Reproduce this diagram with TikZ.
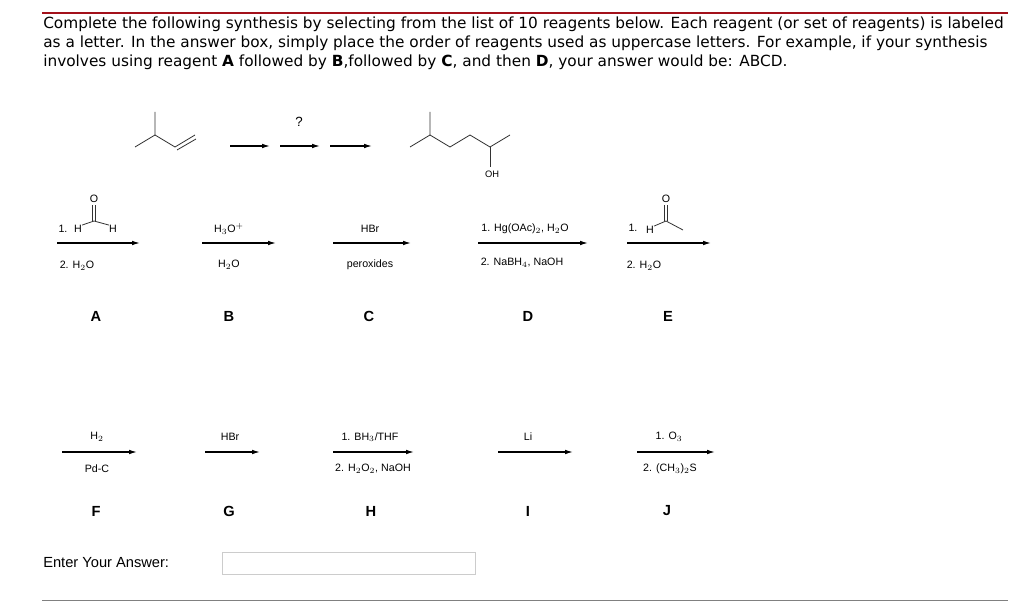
\documentclass[tikz,border=0pt]{standalone}
\usepackage{fontspec}
\usetikzlibrary{arrows.meta}
\setmainfont{Liberation Sans}
\newfontfamily\hdr{DejaVu Sans}
\definecolor{darkred}{HTML}{A3101A}
\begin{document}
\begin{tikzpicture}[x=0.75pt,y=-0.75pt,
  hd/.style={anchor=west,inner sep=0pt,font=\hdr\fontsize{11.5}{13}\selectfont},
  rg/.style={inner sep=0pt,font=\fontsize{8}{9}\selectfont},
  lt/.style={inner sep=0pt,font=\bfseries\fontsize{11}{12}\selectfont},
  bond/.style={line width=0.6pt,black!80},
  arr/.style={line width=0.9pt,-{Latex[length=6pt,width=3.5pt]}}]
\useasboundingbox (0,0) rectangle (1024,602);
\draw[darkred,line width=1.5pt] (42,13) -- (1008,13);
\draw[gray,line width=0.6pt] (42,600) -- (1008,600);
\node[hd] (l1) at (43,24) {Complete the following synthesis by selecting from the list of 10 reagents below. Each reagent (or set of reagents) is labeled};
\node[hd] (l2) at (43,43) {as a letter. In the answer box, simply place the order of reagents used as uppercase letters. For example, if your synthesis};
\node[hd] (l3) at (43,62) {involves using reagent \textbf{A} followed by \textbf{B},followed by \textbf{C}, and then \textbf{D}, your answer would be: ABCD.};
% start molecule
\draw[bond] (135,147) -- (155,135) -- (155,112);
\draw[bond] (155,135) -- (175,147) -- (195,135);
\draw[bond] (177,150) -- (196,139);
% arrows
\coordinate (p1) at (230,146); \coordinate (p2) at (270,146);
\coordinate (p3) at (280,146); \coordinate (p4) at (320,146);
\coordinate (p5) at (330,146); \coordinate (p6) at (372,146);
\draw[arr] (p1) -- (p2); \draw[arr] (p3) -- (p4); \draw[arr] (p5) -- (p6);
\node[rg,font=\fontsize{10}{11}\selectfont] (q) at (299,122) {?};
% product
\draw[bond] (410,147) -- (430,135) -- (430,112);
\draw[bond] (430,135) -- (450,147) -- (470,135) -- (490,147) -- (510,135);
\draw[bond] (490,147) -- (490,167);
\node[rg,font=\fontsize{7}{8}\selectfont] (oh) at (492,174) {OH};
\foreach \a/\b/\y in {57/140/243,202/276/243,333/411/243,478/588/243,627/711/243,62/137/452,205/260/452,333/414/452,498/573/452,637/715/452}{
  \coordinate (s) at (\a,\y); \coordinate (e) at (\b,\y);
  \draw[arr] (s) -- (e);}
% A
\node[rg] (a1) at (63,229) {1.};
\node[rg] (ah1) at (78,229) {H};
\node[rg] (ah2) at (113,229) {H};
\node[rg] (ao) at (94,199) {O};
\coordinate (ac) at (94,221);
\draw[bond] (ah1.north east) -- (ac) -- (ah2.north west);
\draw[bond] (92.5,221) -- (92.5,205); \draw[bond] (95.5,221) -- (95.5,205);
\node[rg] (a2) at (77,266) {2. H$_2$O};
% B
\node[rg] (b1) at (229,229) {H$_3$O$^+$};
\node[rg] (b2) at (229,265) {H$_2$O};
% C
\node[rg] (c1) at (370,229) {HBr};
\node[rg] (c2) at (370,265) {peroxides};
% D
\node[rg] (d1) at (525,229) {1. Hg(OAc)$_2$, H$_2$O};
\node[rg] (d2) at (522,263) {2. NaBH$_4$, NaOH};
% E
\node[rg] (e1) at (633,228) {1.};
\node[rg] (eh) at (650,230) {H};
\node[rg] (eo) at (666,199) {O};
\coordinate (ec) at (666,221);
\draw[bond] (eh.north east) -- (ec) -- (683,230);
\draw[bond] (664.5,221) -- (664.5,205); \draw[bond] (667.5,221) -- (667.5,205);
\node[rg] (e2) at (644,266) {2. H$_2$O};
\node[lt] (A) at (96,316) {A};
\node[lt] (B) at (229,316) {B};
\node[lt] (C) at (369,316) {C};
\node[lt] (D) at (528,316) {D};
\node[lt] (E) at (668,316) {E};
% row 2
\node[rg] (f1) at (97,437) {H$_2$};
\node[rg] (f2) at (97,469) {Pd-C};
\node[rg] (g1) at (230,437) {HBr};
\node[rg] (h1) at (370,437) {1. BH$_3$/THF};
\node[rg] (h2) at (373,469) {2. H$_2$O$_2$, NaOH};
\node[rg] (i1) at (528,437) {Li};
\node[rg] (j1) at (669,437) {1. O$_3$};
\node[rg] (j2) at (670,469) {2. (CH$_3$)$_2$S};
\node[lt] (F) at (96,511) {F};
\node[lt] (G) at (229,511) {G};
\node[lt] (H) at (371,511) {H};
\node[lt] (I) at (528,511) {I};
\node[lt] (J) at (667,511) {J};
\node[anchor=west,inner sep=0pt,font=\fontsize{11}{12}\selectfont] (ans) at (43,563) {Enter Your Answer:};
\draw[black!20,line width=0.6pt] (222,552) rectangle (475,574);
\end{tikzpicture}
\end{document}
